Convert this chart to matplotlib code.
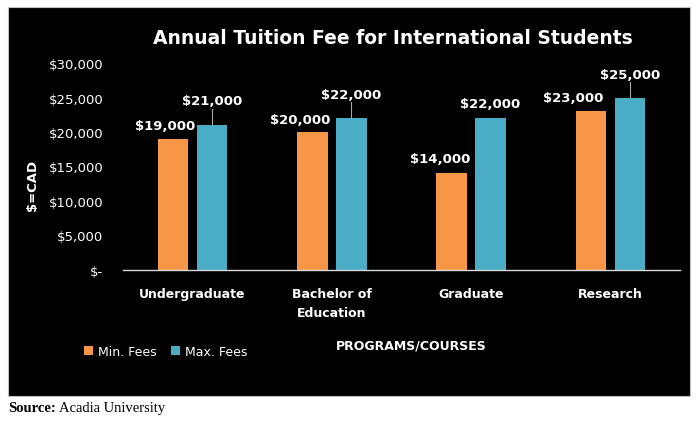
import matplotlib
matplotlib.use("Agg")
import matplotlib.pyplot as plt
from matplotlib.patches import Rectangle
import numpy as np

categories = ["Undergraduate", "Bachelor of\nEducation", "Graduate", "Research"]
min_fees = [19000, 20000, 14000, 23000]
max_fees = [21000, 22000, 22000, 25000]
series_names = ["Min. Fees", "Max. Fees"]
yticks = [0, 5000, 10000, 15000, 20000, 25000, 30000]

ORANGE = "#F79646"
BLUE = "#4BACC6"
FONT = "DejaVu Sans"

W, H = 699, 427
fig = plt.figure(figsize=(W / 100, H / 100), dpi=100)
fig.patch.set_facecolor("white")
# black chart panel
fig.patches.append(Rectangle((8 / W, 1 - 397 / H), (690 - 8) / W, (397 - 8) / H,
                             transform=fig.transFigure, facecolor="black",
                             edgecolor="#BFBFBF", lw=0.8, zorder=-5))

ax = fig.add_axes([123 / W, 1 - 271 / H, (680 - 123) / W, (271 - 64) / H])
ax.set_zorder(2)
ax.patch.set_alpha(0)
x = np.arange(len(categories))
bw = 0.22
off = 0.14
b1 = ax.bar(x - off, min_fees, bw, color=ORANGE, label=series_names[0], zorder=2)
b2 = ax.bar(x + off, max_fees, bw, color=BLUE, label=series_names[1], zorder=2)
ax.set_xlim(-0.5, len(categories) - 0.5)
ax.set_ylim(0, 30000)
for s in ["top", "right", "left"]:
    ax.spines[s].set_visible(False)
ax.spines["bottom"].set_color("#D9D9D9")
ax.spines["bottom"].set_linewidth(1.0)
ax.set_yticks(yticks)
ax.set_yticklabels(["$-" if v == 0 else f"${v:,}" for v in yticks],
                   color="white", fontsize=9.5, family=FONT)
ax.tick_params(axis="y", length=0, pad=14)
ax.tick_params(axis="x", length=0, pad=12)
ax.set_xticks(x)
ax.set_xticklabels(categories, color="white", fontsize=9, fontweight="bold",
                   family=FONT, linespacing=1.6)

# data labels (offsets in axis units for layout only)
min_lab_dx = [-0.06, -0.09, -0.08, -0.13]
min_lab_dy = [1870, 1880, 2090, 2070]
max_lab_dy = [3500, 3500, 2060, 3400]
leader = [True, True, False, True]
for i in range(len(categories)):
    ax.text(x[i] - off + min_lab_dx[i], min_fees[i] + min_lab_dy[i], f"${min_fees[i]:,}",
            color="white", fontsize=9.5, fontweight="bold", family=FONT,
            ha="center", va="center")
    ax.text(x[i] + off, max_fees[i] + max_lab_dy[i], f"${max_fees[i]:,}",
            color="white", fontsize=9.5, fontweight="bold", family=FONT,
            ha="center", va="center")
    if leader[i]:
        ax.plot([x[i] + off, x[i] + off], [max_fees[i] + 50, max_fees[i] + max_lab_dy[i] - 1100],
                color="#A6A6A6", lw=0.8, zorder=3)

fig.text(393 / W, 1 - 38 / H, "Annual Tuition Fee for International Students",
         color="white", fontsize=13.5, fontweight="bold", family=FONT,
         ha="center", va="center")
fig.text(33 / W, 1 - 185 / H, "$=CAD", color="white", fontsize=9.5,
         fontweight="bold", family=FONT, rotation=90, ha="center", va="center")
fig.text(411 / W, 1 - 346 / H, "PROGRAMS/COURSES", color="white", fontsize=9,
         fontweight="bold", family=FONT, ha="center", va="center")

leg = fig.legend(handles=[b1, b2], labels=series_names, loc="center left",
                 bbox_to_anchor=(84 / W, 1 - 352 / H), ncol=2, frameon=False,
                 fontsize=9, handlelength=0.7, handleheight=0.7, handletextpad=0.4,
                 columnspacing=1.2, borderpad=0, borderaxespad=0)
for t in leg.get_texts():
    t.set_color("white")
    t.set_family(FONT)

t1 = fig.text(8 / W, 1 - 409 / H, "Source:", fontsize=10.5, fontweight="bold",
              family="Liberation Serif", ha="left", va="center", color="black")
fig.canvas.draw()
bb = t1.get_window_extent()
fig.text((bb.x1 + 3) / W, 1 - 409 / H, "Acadia University", fontsize=10.5,
         family="Liberation Serif", ha="left", va="center", color="black")

fig.savefig("out.png", dpi=100, facecolor="white")
